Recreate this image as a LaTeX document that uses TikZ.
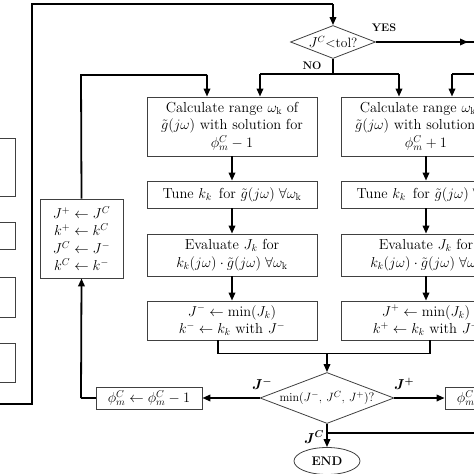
\documentclass[tikz,border=0pt]{standalone}
\usepackage{amsmath}
\usetikzlibrary{arrows.meta,shapes.geometric}
\begin{document}
\begin{tikzpicture}[x=1pt,y=-1pt,
  box/.style={draw=black!75, line width=0.8pt, minimum width=170pt, align=center, inner sep=1pt, font=\fontsize{14.5}{17.5}\selectfont},
  sbox/.style={draw=black!75, line width=0.8pt, minimum width=80pt},
  dia/.style={draw=black!75, line width=0.8pt, shape=diamond, inner sep=0pt, aspect=2.6, font=\fontsize{12.5}{14}\selectfont},
  conn/.style={line width=1.8pt},
  thick conn/.style={line width=2.6pt},
  arr/.style={conn, -{Triangle[length=8pt,width=6.5pt]}},
  lbl/.style={font=\fontsize{11}{13}\selectfont\bfseries, inner sep=0pt},
  mlbl/.style={font=\fontsize{14}{16}\selectfont\boldmath, inner sep=0pt}]
\useasboundingbox (0,0) rectangle (474,474);
\clip (0,0) rectangle (474,474);

% left strip (cut off boxes)
\node[sbox, minimum height=58pt] (s1) at (-25,167) {};
\node[sbox, minimum height=27pt] (s2) at (-25,235.5) {};
\node[sbox, minimum height=40pt] (s3) at (-25,297) {};
\node[sbox, minimum height=39pt] (s4) at (-25,362.5) {};

% decision 1
\node[dia, minimum width=85pt, minimum height=33pt, font=\fontsize{13.5}{15}\selectfont] (d1) at (333,42) {$J^{C}$<tol?};

% left column
\node[box, minimum height=59pt] (l1) at (232,126.5) {Calculate range $\omega_{\mathrm{k}}$ of\\ $\tilde g(j\omega)$ with solution for\\ $\phi_m^{C}-1$};
\node[box, minimum height=27pt] (l2) at (232,194.5) {Tune $k_k$\, for $\tilde g(j\omega)\;\forall\omega_{\mathrm{k}}$};
\node[box, minimum height=42pt] (l3) at (232,255) {Evaluate $J_k$ for\\ $k_k(j\omega)\cdot\tilde g(j\omega)\;\forall\omega_{\mathrm{k}}$};
\node[box, minimum height=39pt] (l4) at (232,320.5) {$J^-\leftarrow\min(J_k)$\\ $k^-\leftarrow k_k$ with $J^-$};

% right column
\node[box, minimum height=59pt] (r1) at (426,126.5) {Calculate range $\omega_{\mathrm{k}}$ of\\ $\tilde g(j\omega)$ with solution for\\ $\phi_m^{C}+1$};
\node[box, minimum height=27pt] (r2) at (426,194.5) {Tune $k_k$\, for $\tilde g(j\omega)\;\forall\omega_{\mathrm{k}}$};
\node[box, minimum height=42pt] (r3) at (426,255) {Evaluate $J_k$ for\\ $k_k(j\omega)\cdot\tilde g(j\omega)\;\forall\omega_{\mathrm{k}}$};
\node[box, minimum height=39pt] (r4) at (426,320.5) {$J^+\leftarrow\min(J_k)$\\ $k^+\leftarrow k_k$ with $J^+$};

% swap box
\node[box, minimum width=83pt, minimum height=79pt] (jb) at (81.5,238.5) {$J^+\leftarrow J^{C}$\\ $k^+\leftarrow k^{C}$\\ $J^{C}\leftarrow J^-$\\ $k^{C}\leftarrow k^-$};

% decision 2
\node[dia, minimum width=134pt, minimum height=51pt] (d2) at (327,398) {$\min(J^-,\,J^{C},\,J^+)$?};

% phi update boxes
\node[box, minimum width=106pt, minimum height=22pt] (pl) at (149,398) {$\phi_m^{C}\leftarrow\phi_m^{C}-1$};
\node[box, minimum width=106pt, minimum height=22pt] (pr) at (498,398) {$\phi_m^{C}\leftarrow\phi_m^{C}+1$};

% end
\node[draw=black!75, line width=0.8pt, ellipse, minimum width=66pt, minimum height=27pt, inner sep=0pt, font=\fontsize{12.5}{14}\selectfont\bfseries] (end) at (327,461) {END};

% off-frame coordinates
\coordinate (cin) at (-30,404);
\coordinate (c1) at (32,404);
\coordinate (c2) at (32,4);
\coordinate (c3) at (333,4);
\coordinate (yesend) at (490,42);
\coordinate (yestip) at (468,42);
\coordinate (no) at (333,74);
\coordinate (nl) at (260,74);
\coordinate (nr) at (399,74);
\coordinate (rin) at (490,74);
\coordinate (rk) at (452,74);
\coordinate (lk1) at (81,75);
\coordinate (lk2) at (207,75);
\coordinate (m1) at (218,353.5);
\coordinate (m2) at (430,353.5);
\coordinate (mm) at (327,353.5);
\coordinate (ein) at (490,433);
\coordinate (em) at (327,433);
\coordinate (pk) at (81,398);

% outer loop
\draw[thick conn] (cin) -- (c1) -- (c2) -- (c3);
\draw[arr] (c3) -- (d1.north);

% YES
\draw[conn] (d1.east) -- (yesend);
\draw[arr] (d1.east) -- (yestip);
\node[lbl] at (384,28) {YES};

% NO
\draw[conn] (d1.south) -- (no);
\draw[conn] (nl) -- (nr);
\draw[arr] (nl) -- (nl |- l1.north);
\draw[arr] (nr) -- (nr |- r1.north);
\node[lbl] at (312,66) {NO};

% right loop into r1
\draw[conn] (rin) -- (rk);
\draw[arr] (rk) -- (rk |- r1.north);

% left loop into l1
\draw[conn] (jb.north) -- (lk1) -- (lk2);
\draw[arr] (lk2) -- (lk2 |- l1.north);

% column arrows
\draw[arr] (l1) -- (l2);
\draw[arr] (l2) -- (l3);
\draw[arr] (l3) -- (l4);
\draw[arr] (r1) -- (r2);
\draw[arr] (r2) -- (r3);
\draw[arr] (r3) -- (r4);

% merge to d2
\draw[conn] (l4.south -| m1) -- (m1) -- (m2) -- (r4.south -| m2);
\draw[arr] (mm) -- (d2.north);

% d2 outputs
\draw[arr] (d2.west) -- (pl.east);
\draw[arr] (d2.east) -- (pr.west);
\draw[conn] (pl.west) -- (pk);
\draw[arr] (pk) -- (jb.south);
\draw[conn] (ein) -- (em);
\draw[arr] (d2.south) -- (end.north);

\node[mlbl] at (262,384) {$J^-$};
\node[mlbl] at (404,384) {$J^+$};
\node[mlbl] at (314,437) {$J^{C}$};
\end{tikzpicture}
\end{document}
